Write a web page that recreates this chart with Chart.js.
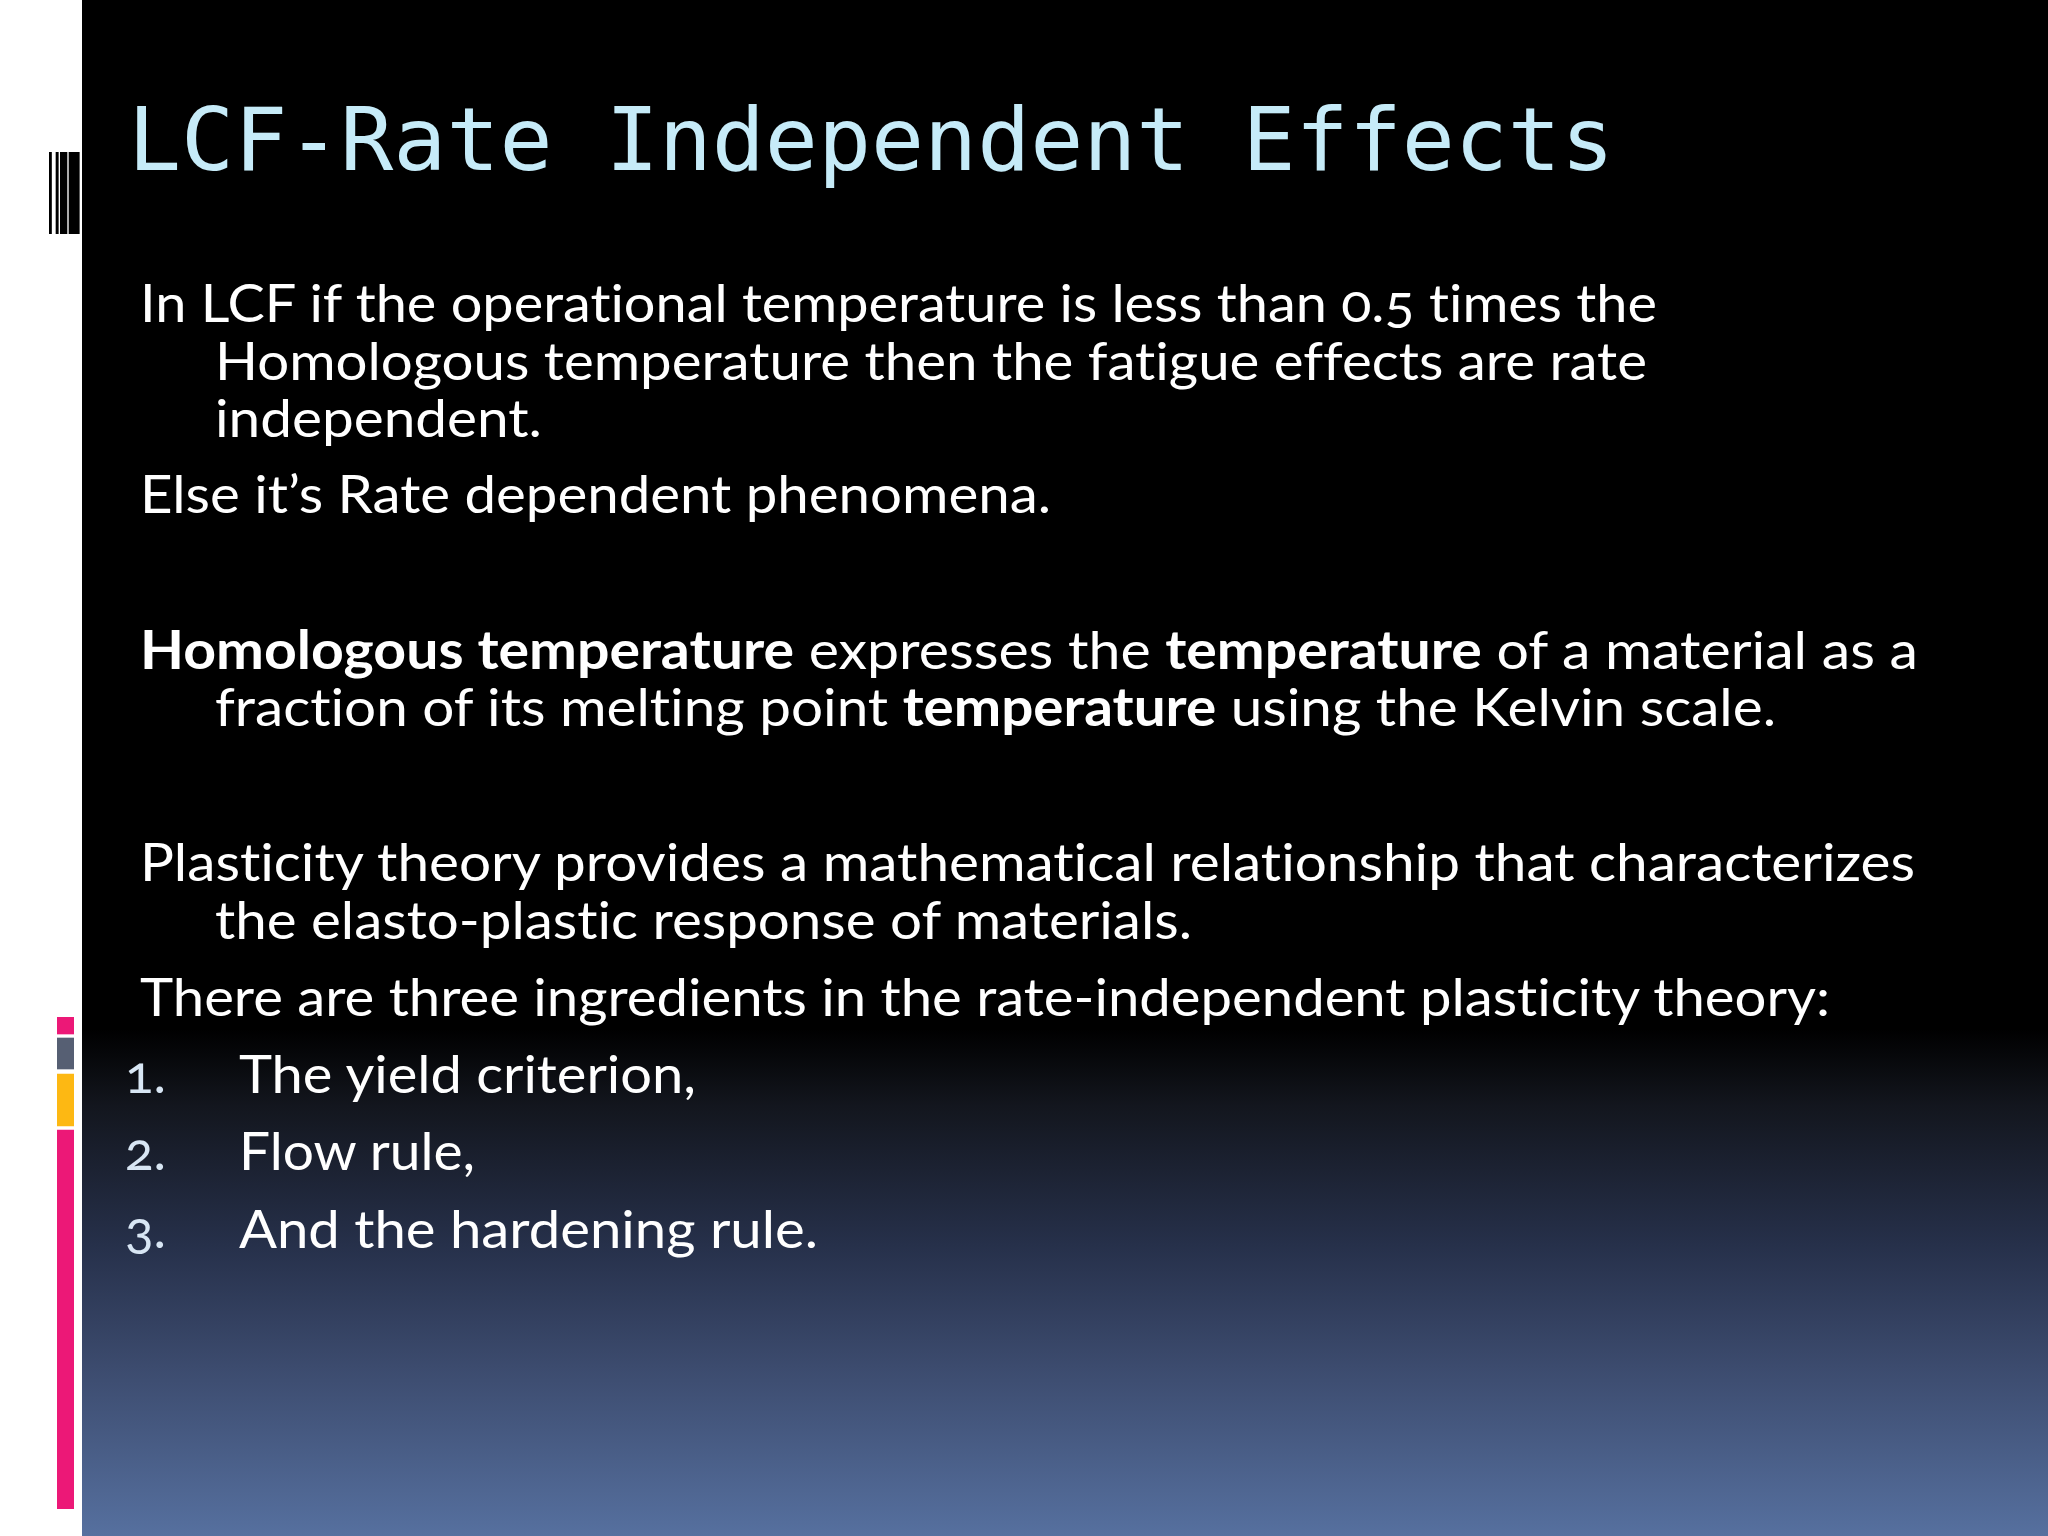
<!DOCTYPE html>
<html>
<head>
<meta charset="utf-8">
<script src="https://cdn.jsdelivr.net/npm/chart.js@4.4.1/dist/chart.umd.min.js"></script>
<style>
html,body{margin:0;padding:0;}
body{width:2048px;height:1536px;position:relative;overflow:hidden;background:#ffffff;}
#slide{position:absolute;left:82px;top:0;width:1966px;height:1536px;
  background:linear-gradient(to bottom,#000000 0%,#000000 67%,#13161e 72%,#26304a 81%,#3c4b6e 89%,#56709f 100%);}
.line{position:absolute;white-space:nowrap;font-family:Lato,"Open Sans",sans-serif;font-size:53px;color:#ffffff;
  transform-origin:0 0;line-height:1.2;font-variant-ligatures:none;font-feature-settings:"liga" 0,"clig" 0,"onum" 1;}
.line b{font-weight:700;}
.num{color:#d8e6f4;}
.title{font-family:"DejaVu Sans Mono",monospace;font-size:88px;color:#c6ebf8;}
.bm{display:inline-block;width:0;height:0;vertical-align:baseline;}
canvas{position:absolute;}
</style>
</head>
<body>
<div id="slide"></div>
<canvas id="barcode" width="31" height="82" style="left:49px;top:152px;width:31px;height:82px;"></canvas>
<canvas id="stripe" width="17" height="492" style="left:57px;top:1017px;width:17px;height:492px;"></canvas>
<script>
// ---- data ----
const titleText = "LCF-Rate Independent Effects";
const barcodeSegments = [2.5, 4.5, 2.3, 2, 6.7, 2, 10.3];
const barcodeColors = ["#000000", "rgba(0,0,0,0)", "#000000", "rgba(0,0,0,0)", "#000000", "rgba(0,0,0,0)", "#000000"];
const stripeSegments = [17, 4, 31, 5, 52, 4, 379];
const stripeColors = ["#ec1877", "rgba(0,0,0,0)", "#565f73", "rgba(0,0,0,0)", "#fdb813", "rgba(0,0,0,0)", "#ec1877"];
const bodyLines = [
  'In LCF if the operational temperature is less than 0.5 times the',
  'Homologous temperature then the fatigue effects are rate',
  'independent.',
  'Else it\u2019s Rate dependent phenomena.',
  '<b>Homologous temperature</b> expresses the <b>temperature</b> of a material as a',
  'fraction of its melting point <b>temperature</b> using the Kelvin scale.',
  'Plasticity theory provides a mathematical relationship that characterizes',
  'the elasto-plastic response of materials.',
  'There are three ingredients in the rate-independent plasticity theory:'
];
const listNumbers = ['1.', '2.', '3.'];
const listItems = ['The yield criterion,', 'Flow rule,', 'And the hardening rule.'];

// ---- layout ----
const bodyLayout = [
  [140, 322, 1657], [215, 380, 1647], [215, 437, 542], [140, 513, 1051],
  [140, 669, 1918], [215, 726, 1776], [140, 881, 1915], [215, 939, 1192], [140, 1016, 1830]
];
const listLayout = [[1093, 696], [1170, 475], [1248, 818]];

function addLine(html, cls, left, baseline, right) {
  const d = document.createElement('div');
  d.className = 'line ' + (cls || '');
  d.innerHTML = html + '<span class="bm"></span>';
  document.body.appendChild(d);
  d.style.left = left + 'px';
  const m = d.querySelector('.bm');
  d.style.top = (baseline - m.offsetTop) + 'px';
  if (right) {
    const w = d.getBoundingClientRect().width;
    d.style.transform = 'scaleX(' + ((right - left) / w) + ')';
  }
  return d;
}

function build() {
  addLine(titleText, 'title', 128, 170, 1614);
  bodyLines.forEach((t, i) => addLine(t, '', bodyLayout[i][0], bodyLayout[i][1], bodyLayout[i][2]));
  listNumbers.forEach((n, i) => addLine(n, 'num', 125, listLayout[i][0], null));
  listItems.forEach((t, i) => addLine(t, '', 239, listLayout[i][0], listLayout[i][1]));
}

function stackedChart(id, segs, colors, horizontal, total) {
  new Chart(document.getElementById(id), {
    type: 'bar',
    data: {
      labels: ['a'],
      datasets: segs.map((v, i) => ({
        data: [v], backgroundColor: colors[i], borderWidth: 0,
        barPercentage: 1, categoryPercentage: 1, stack: 's'
      }))
    },
    options: {
      indexAxis: horizontal ? 'y' : 'x',
      responsive: false, animation: false, devicePixelRatio: 1,
      layout: { padding: 0 },
      plugins: { legend: { display: false }, tooltip: { enabled: false }, title: { display: false } },
      scales: horizontal ? {
        x: { display: false, stacked: true, min: 0, max: total },
        y: { display: false, stacked: true }
      } : {
        x: { display: false, stacked: true },
        y: { display: false, stacked: true, min: 0, max: total, reverse: true }
      }
    }
  });
}

function init() {
  build();
  stackedChart('barcode', barcodeSegments, barcodeColors, true, 31);
  stackedChart('stripe', stripeSegments, stripeColors, false, 492);
}
if (document.fonts && document.fonts.load) {
  Promise.all([
    document.fonts.load('53px Lato'), document.fonts.load('bold 53px Lato'),
    document.fonts.load('88px "DejaVu Sans Mono"')
  ]).then(init, init);
} else { init(); }
</script>
</body>
</html>
